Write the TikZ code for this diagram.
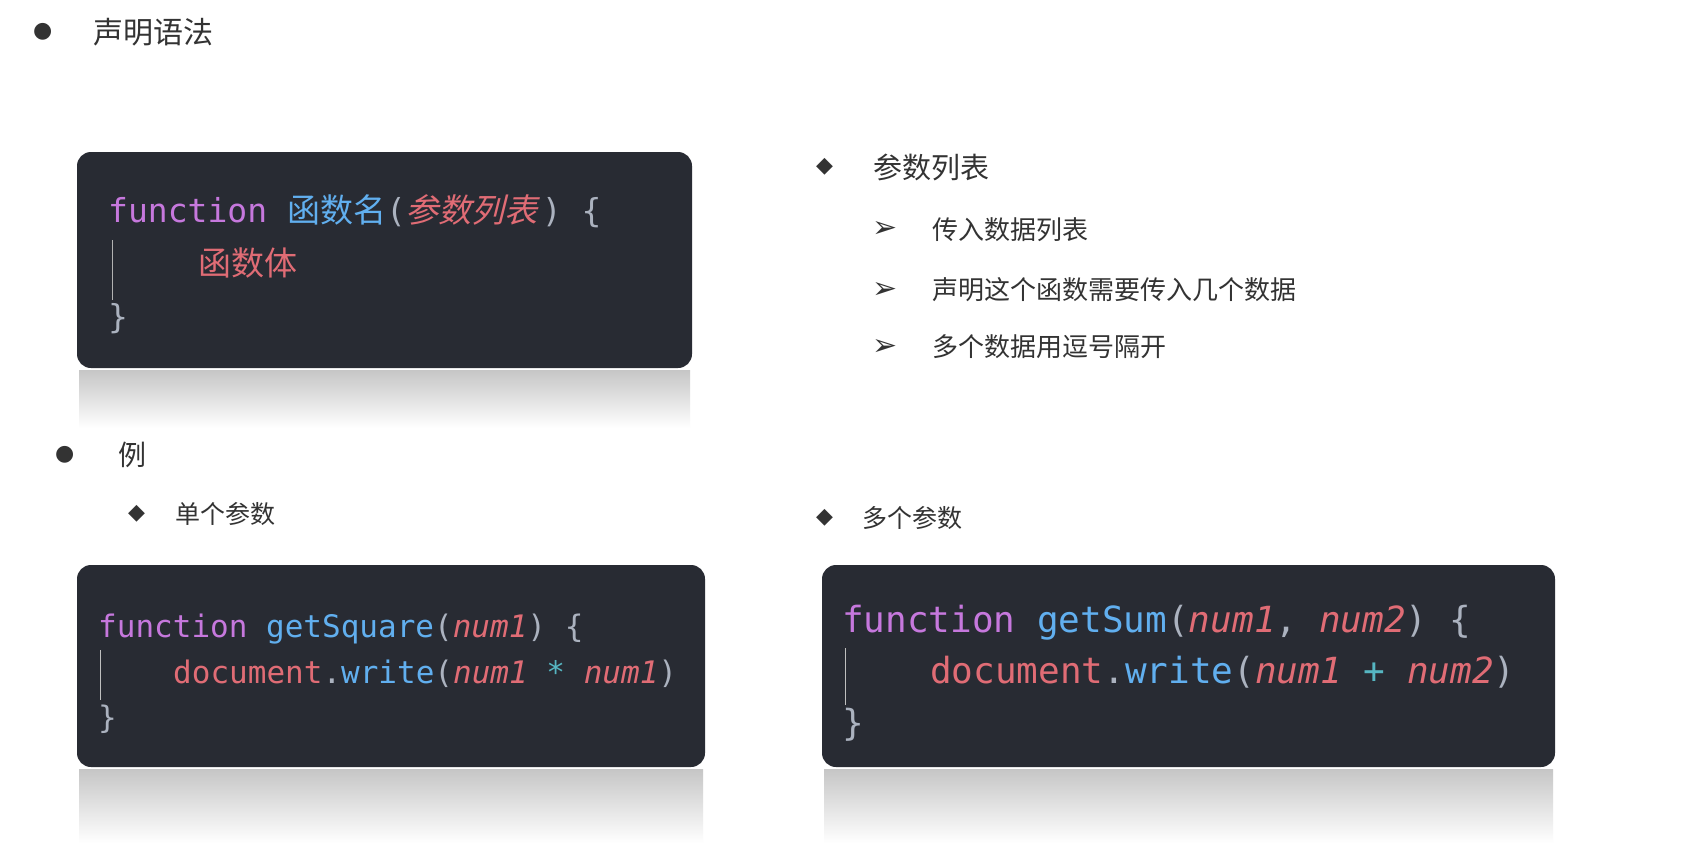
\documentclass[tikz,border=0pt]{standalone}
\usepackage{fontspec}
\setmonofont{DejaVu Sans Mono}
\newfontfamily\cjk{Noto Sans CJK SC}
\newfontfamily\cjkit{Noto Sans CJK SC}[FakeSlant=0.25]
\newfontfamily\sym{DejaVu Sans}
\definecolor{codebg}{HTML}{282B33}
\definecolor{kw}{HTML}{C678DD}
\definecolor{fn}{HTML}{61AFEF}
\definecolor{rd}{HTML}{E06C75}
\definecolor{gy}{HTML}{ABB2BF}
\definecolor{cy}{HTML}{56B6C2}
\definecolor{txt}{HTML}{333333}
\begin{document}
\begin{tikzpicture}[x=1pt,y=-1pt,
  codebox/.style={fill=codebg,rounded corners=14pt},
  refl/.style={top color=gray!45,bottom color=white},
  code/.style={anchor=base west,inner sep=0pt,font=\ttfamily},
  lbl/.style={anchor=west,inner sep=0pt,text=txt}]
\useasboundingbox (0,0) rectangle (1690,843);
\fill[white] (0,0) rectangle (1690,843);
% reflections
\shade[refl] (79,370) rectangle (690,428);
\shade[refl] (79,769) rectangle (703,843);
\shade[refl] (824,769) rectangle (1553,843);
% code boxes
\fill[codebox] (77,152) rectangle (692,368);
\fill[codebox] (77,565) rectangle (705,767);
\fill[codebox] (822,565) rectangle (1555,767);
% guide lines
\draw[gray!60,line width=1pt] (112,240) -- (112,300);
\draw[gray!50,line width=1pt] (100,650) -- (100,700);
\draw[gray!50,line width=1pt] (845,648) -- (845,705);
% top code
\node[code,font=\fontsize{33}{40}\ttfamily] (t1) at (108,222) {\textcolor{kw}{function} \textcolor{fn}{\cjk 函数名}\textcolor{gy}{(}\textcolor{rd}{\cjkit 参数列表}\kern4pt\textcolor{gy}{) \{}};
\node[code,font=\fontsize{33}{40}\ttfamily] (t2) at (198,275) {\textcolor{rd}{\cjk 函数体}};
\node[code,font=\fontsize{33}{40}\ttfamily] (t3) at (108,328) {\textcolor{gy}{\}}};
% bottom left code
\node[code,font=\fontsize{31}{38}\ttfamily] (l1) at (98,637) {\textcolor{kw}{function} \textcolor{fn}{getSquare}\textcolor{gy}{(}\textcolor{rd}{\itshape num1}\textcolor{gy}{) \{}};
\node[code,font=\fontsize{31}{38}\ttfamily] (l2) at (173,683) {\textcolor{rd}{document}\textcolor{gy}{.}\textcolor{fn}{write}\textcolor{gy}{(}\textcolor{rd}{\itshape num1} \textcolor{cy}{*} \textcolor{rd}{\itshape num1}\textcolor{gy}{)}};
\node[code,font=\fontsize{31}{38}\ttfamily] (l3) at (98,728) {\textcolor{gy}{\}}};
% bottom right code
\node[code,font=\fontsize{36}{44}\ttfamily] (r1) at (842,632) {\textcolor{kw}{function} \textcolor{fn}{getSum}\textcolor{gy}{(}\textcolor{rd}{\itshape num1}\textcolor{gy}{, }\textcolor{rd}{\itshape num2}\textcolor{gy}{) \{}};
\node[code,font=\fontsize{36}{44}\ttfamily] (r2) at (930,683) {\textcolor{rd}{document}\textcolor{gy}{.}\textcolor{fn}{write}\textcolor{gy}{(}\textcolor{rd}{\itshape num1} \textcolor{cy}{+} \textcolor{rd}{\itshape num2}\textcolor{gy}{)}};
\node[code,font=\fontsize{36}{44}\ttfamily] (r3) at (842,735) {\textcolor{gy}{\}}};
% headings
\node[lbl,font=\fontsize{22}{26}\sym] (b1) at (33,32) {●};
\node[lbl,font=\fontsize{30}{36}\cjk] (h1) at (93,32) {声明语法};
\node[lbl,font=\fontsize{22}{26}\sym] (b2) at (55,455) {●};
\node[lbl,font=\fontsize{28}{34}\cjk] (h2) at (118,455) {例};
\node[lbl,font=\fontsize{22}{26}\sym] (d1) at (128,514) {◆};
\node[lbl,font=\fontsize{25}{30}\cjk] (h3) at (175,514) {单个参数};
\node[lbl,font=\fontsize{22}{26}\sym] (d2) at (816,518) {◆};
\node[lbl,font=\fontsize{25}{30}\cjk] (h4) at (862,518) {多个参数};
\node[lbl,font=\fontsize{22}{26}\sym] (d3) at (816,167) {◆};
\node[lbl,font=\fontsize{29}{34}\cjk] (h5) at (873,167) {参数列表};
\node[lbl,font=\fontsize{30}{34}\sym] (a1) at (872,230) {➢};
\node[lbl,font=\fontsize{26}{30}\cjk] (i1) at (932,230) {传入数据列表};
\node[lbl,font=\fontsize{30}{34}\sym] (a2) at (872,290) {➢};
\node[lbl,font=\fontsize{26}{30}\cjk] (i2) at (932,290) {声明这个函数需要传入几个数据};
\node[lbl,font=\fontsize{30}{34}\sym] (a3) at (872,347) {➢};
\node[lbl,font=\fontsize{26}{30}\cjk] (i3) at (932,347) {多个数据用逗号隔开};
\end{tikzpicture}
\end{document}
